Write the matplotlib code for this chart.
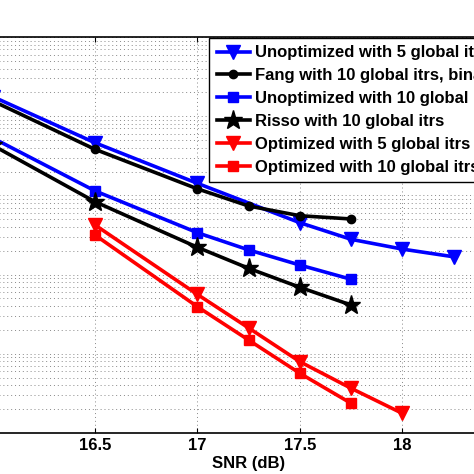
import matplotlib.pyplot as plt
from matplotlib.ticker import FixedLocator, FixedFormatter

# SNR points (dB) and error rates
snr_unopt5 = [16.0, 16.5, 17.0, 17.5, 17.75, 18.0, 18.25]
ber_unopt5 = [1.77e-2, 4.62e-3, 1.42e-3, 4.52e-4, 2.79e-4, 2.10e-4, 1.68e-4]

snr_fang = [16.0, 16.5, 17.0, 17.25, 17.5, 17.75]
ber_fang = [1.56e-2, 3.82e-3, 1.21e-3, 7.35e-4, 5.54e-4, 5.04e-4]

snr_unopt10 = [16.0, 16.5, 17.0, 17.25, 17.5, 17.75]
ber_unopt10 = [5.32e-3, 1.14e-3, 3.38e-4, 2.05e-4, 1.32e-4, 8.73e-5]

snr_risso = [16.0, 16.5, 17.0, 17.25, 17.5, 17.75]
ber_risso = [4.30e-3, 8.32e-4, 2.21e-4, 1.20e-4, 6.91e-5, 4.13e-5]

snr_opt5 = [16.5, 17.0, 17.25, 17.5, 17.75, 18.0]
ber_opt5 = [4.23e-4, 5.61e-5, 2.12e-5, 7.95e-6, 3.67e-6, 1.77e-6]

snr_opt10 = [16.5, 17.0, 17.25, 17.5, 17.75]
ber_opt10 = [3.16e-4, 3.93e-5, 1.49e-5, 5.67e-6, 2.37e-6]

# 16 and 18.5 fall outside the cropped picture, so only their tick marks stay
xticks = [16, 16.5, 17, 17.5, 18, 18.5]
xtick_labels = ['', '16.5', '17', '17.5', '18', '']

plt.rcParams['font.family'] = ['Liberation Sans', 'DejaVu Sans']
plt.rcParams['font.weight'] = 'bold'

fig = plt.figure(figsize=(4.74, 4.74), dpi=100)
# the source picture is a crop, so the axes run past the left/right edges
ax = fig.add_axes([-0.0156, 0.0865, 1.0804, 0.8354])

lw = 2.6
ax.semilogy(snr_unopt5, ber_unopt5, '-v', color='b', lw=lw, ms=10,
            label='Unoptimized with 5 global itrs')
ax.semilogy(snr_fang, ber_fang, '-o', color='k', lw=lw, ms=6,
            label='Fang with 10 global itrs, binary')
ax.semilogy(snr_unopt10, ber_unopt10, '-s', color='b', lw=lw, ms=7,
            label='Unoptimized with 10 global itrs')
ax.semilogy(snr_risso, ber_risso, '-*', color='k', lw=lw, ms=14,
            label='Risso with 10 global itrs')
ax.semilogy(snr_opt5, ber_opt5, '-v', color='r', lw=lw, ms=10,
            label='Optimized with 5 global itrs')
ax.semilogy(snr_opt10, ber_opt10, '-s', color='r', lw=lw, ms=7,
            label='Optimized with 10 global itrs')

ax.set_xlim(16, 18.5)
ax.set_ylim(1e-6, 1e-1)
ax.xaxis.set_major_locator(FixedLocator(xticks))
ax.xaxis.set_major_formatter(FixedFormatter(xtick_labels))
ax.tick_params(axis='both', which='both', direction='in', top=True, right=True,
               labelsize=12)
ax.tick_params(axis='y', which='both', labelleft=False)
ax.xaxis.grid(True, which='major', linestyle=(0, (1, 3)), color='#888888', lw=0.7)
ax.yaxis.grid(True, which='both', linestyle=(0, (1, 3)), color='#888888', lw=0.7)
for s in ax.spines.values():
    s.set_linewidth(1.2)

ax.set_xlabel('SNR (dB)', fontsize=12, fontweight='bold', labelpad=2)

leg = ax.legend(loc='upper left', bbox_to_anchor=(209 / 474, 1 - 38 / 474),
                bbox_transform=fig.transFigure, borderaxespad=0,
                fancybox=False, framealpha=1, edgecolor='k',
                prop={'size': 12, 'weight': 'bold'},
                handlelength=2.0, handletextpad=0.3, labelspacing=0.47,
                borderpad=0.45)
leg.get_frame().set_linewidth(1.0)

fig.savefig('out.png', dpi=100)
